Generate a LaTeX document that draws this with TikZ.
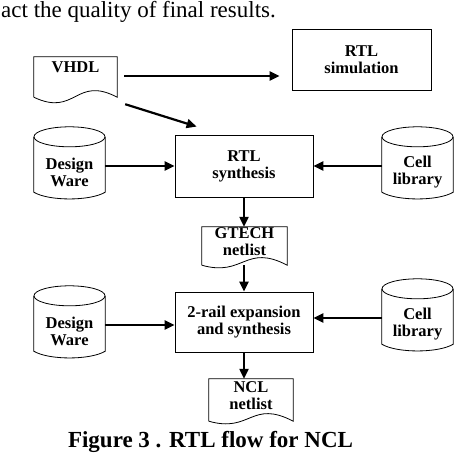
\documentclass[tikz,border=0pt]{standalone}
\usepackage{fontspec}
\setmainfont{Liberation Serif}
\usetikzlibrary{arrows.meta}

\tikzset{
	box/.style={draw, line width=0.8pt, minimum width=138pt, minimum height=61pt, inner sep=0pt, align=center},
	docbox/.style={minimum width=84pt, minimum height=40pt, inner sep=0pt},
	doctext/.style={anchor=north, inner sep=0pt, align=center},
	cylbox/.style={minimum width=71pt, minimum height=40pt, inner sep=0pt, align=center},
	flow/.style={line width=2.2pt, -{Triangle[length=10pt,width=9pt]}}
}
% outlines drawn round the named nodes
\newcommand{\docoutline}[2][12]{%
	\draw[line width=0.8pt] (#2.south west) -- (#2.north west) -- (#2.north east) -- (#2.south east)
		.. controls +(-42,-22) and +(42,#1) .. (#2.south west);}
\newcommand{\cyloutline}[1]{%
	\draw[line width=0.8pt] ([yshift=15pt]#1.north) ellipse [x radius=35.5pt, y radius=10pt];
	\draw[line width=0.8pt] ([yshift=15pt]#1.north west) -- (#1.south west)
		.. controls +(15,9) and +(-15,9) .. (#1.south east) -- ([yshift=15pt]#1.north east);}

\begin{document}
\begin{tikzpicture}[x=1pt, y=-1pt, font=\bfseries\fontsize{16.5}{17}\selectfont]
			\useasboundingbox (0,0) rectangle (454,460);
			\node[anchor=base west, inner sep=0pt, font=\fontsize{23}{26}\selectfont] (intro) at (1,18) {act the quality of final results.};
			
			\node[docbox, minimum width=83pt, label={[doctext, yshift=-4.5pt]north:VHDL}] (vhdl) at (75.5,77) {};
			\docoutline[20]{vhdl}
			\node[box, minimum width=139pt, minimum height=61pt] (rtlsim) at (361.5,60) {RTL\\simulation};
			
			\node[box, minimum height=62pt] (rtlsyn) at (244,166) {RTL\\synthesis};
			\node[cylbox] (dw1) at (69.5,172) {Design\\Ware}; \cyloutline{dw1}
			\node[cylbox] (cell1) at (417.5,172) {Cell\\library}; \cyloutline{cell1}
			\node[docbox, minimum width=85pt, minimum height=38pt, label={[doctext, yshift=-1pt]north:GTECH\\netlist}] (gtech) at (244.5,246) {};
			\docoutline{gtech}
			
			\node[box, minimum height=60pt] (tworail) at (244,322) {2-rail expansion\\and synthesis};
			\node[cylbox] (dw2) at (69.5,331) {Design\\Ware}; \cyloutline{dw2}
			\node[cylbox] (cell2) at (417.5,324) {Cell\\library}; \cyloutline{cell2}
			\node[docbox, minimum height=42pt, label={[doctext, yshift=-3pt]north:NCL\\netlist}] (ncl) at (251,400) {};
			\docoutline{ncl}
			
			\node[anchor=base, font=\bfseries\fontsize{23}{26}\selectfont] (caption) at (210.5,447) {Figure 3 . RTL flow for NCL};
			
			\draw[flow, shorten <=7pt, shorten >=12pt] ([yshift=1pt]vhdl.east) -- ([yshift=1pt]vhdl.east -| rtlsim.west);
			\draw[flow] ([xshift=8pt,yshift=-7pt]vhdl.south east) -- ([xshift=22pt,yshift=8pt]rtlsyn.north west);
			\draw[flow] (dw1.east |- rtlsyn.west) -- (rtlsyn.west);
			\draw[flow] (cell1.west |- rtlsyn.east) -- (rtlsyn.east);
			\draw[flow] (rtlsyn.south) -- (rtlsyn.south |- gtech.north);
			\draw[flow] (rtlsyn.south |- gtech.south) -- (tworail.north);
			\draw[flow] ([yshift=-3pt]dw2.east |- tworail.west) -- ([yshift=-3pt]tworail.west);
			\draw[flow] ([yshift=4pt]cell2.west |- tworail.east) -- ([yshift=4pt]tworail.east);
			\draw[flow] (tworail.south) -- (tworail.south |- ncl.north);
		\end{tikzpicture}
\end{document}
